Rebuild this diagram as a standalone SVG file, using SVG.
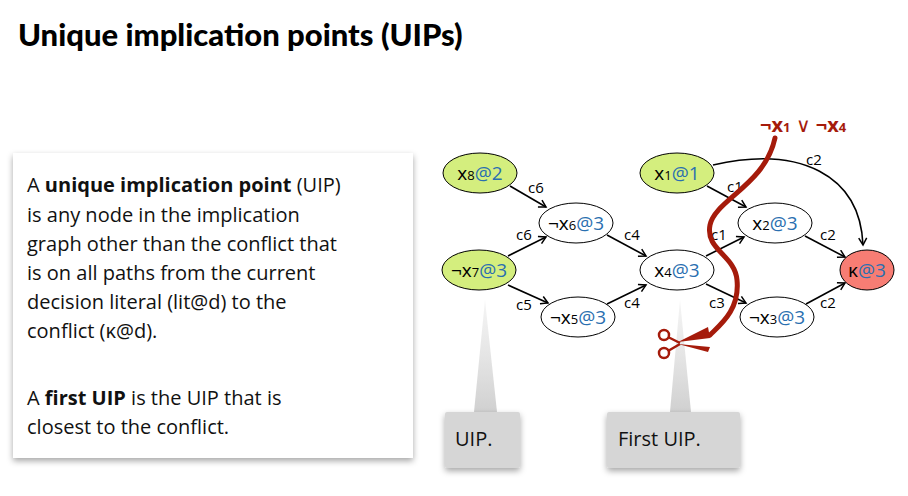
<svg xmlns="http://www.w3.org/2000/svg" width="908" height="496" viewBox="0 0 908 496">
<defs>
<marker id="ar" markerWidth="10" markerHeight="10" refX="8" refY="5" orient="auto" markerUnits="userSpaceOnUse"><path d="M1,1 L8,5 L1,9" fill="none" stroke="#000" stroke-width="1.5"/></marker>
<filter id="sh" x="-10%" y="-10%" width="130%" height="130%"><feDropShadow dx="0" dy="3" stdDeviation="3" flood-color="#000" flood-opacity="0.35"/></filter>
<linearGradient id="spk" x1="0" y1="0" x2="0" y2="1"><stop offset="0" stop-color="#ddd" stop-opacity="0.3"/><stop offset="1" stop-color="#d0d0d0"/></linearGradient>
</defs>
<style>
.t{font-family:"Open Sans","Liberation Sans",sans-serif;fill:#111}
.n{font-family:"Open Sans","Liberation Sans",sans-serif;font-size:19px;text-anchor:middle}
.at{fill:#2a6fb0}
.lb{font-family:"Open Sans","Liberation Sans",sans-serif;font-size:15px;fill:#000}
.e{fill:none;stroke:#000;stroke-width:1.6;marker-end:url(#ar)}
ellipse{stroke:#000;stroke-width:1}
</style>
<rect width="908" height="496" fill="#fff"/>
<text x="18" y="46" font-family="Lato,'Open Sans',sans-serif" font-size="31" font-weight="900" fill="#000">Unique implication points (UIPs)</text>
<g id="textbox">
<rect x="13" y="153" width="400" height="305" fill="#fff" filter="url(#sh)"/>
<text class="t" font-size="20">
<tspan x="27" y="192">A <tspan font-weight="bold">unique implication point</tspan> (UIP)</tspan>
<tspan x="27" y="222">is any node in the implication</tspan>
<tspan x="27" y="251">graph other than the conflict that</tspan>
<tspan x="27" y="280">is on all paths from the current</tspan>
<tspan x="27" y="309">decision literal (lit@d) to the</tspan>
<tspan x="27" y="338">conflict (κ@d).</tspan>
<tspan x="27" y="405">A <tspan font-weight="bold">first UIP</tspan> is the UIP that is</tspan>
<tspan x="27" y="434">closest to the conflict.</tspan>
</text>
</g>
<g id="callout-uip">
<path d="M485,300 L474,412 L497,412 Z" fill="url(#spk)"/>
<rect x="445" y="412" width="75" height="56" rx="2" fill="#d6d6d6" filter="url(#sh)"/>
<text x="455" y="446" class="t" font-size="20">UIP.</text>
</g>
<g id="callout-first">
<path d="M680,300 L670,412 L691,412 Z" fill="url(#spk)"/>
<rect x="607" y="412" width="133" height="56" rx="2" fill="#d6d6d6" filter="url(#sh)"/>
<text x="618" y="446" class="t" font-size="20">First UIP.</text>
</g>
<g id="connectors">
<path class="e" d="M510,186 L546,207"/>
<path class="e" d="M508,256 L546,237"/>
<path class="e" d="M508,285 L548,303"/>
<path class="e" d="M607,235 L646,256"/>
<path class="e" d="M607,304 L646,285"/>
<path class="e" d="M707,186 L746,207"/>
<path class="e" d="M706,256 L744,237"/>
<path class="e" d="M706,284 L746,303"/>
<path class="e" d="M805,236 L845,257"/>
<path class="e" d="M806,304 L845,283"/>
<path class="e" d="M713,165 C800,145 860,175 863,245"/>
<g class="lb">
<text x="528" y="193">c6</text><text x="516" y="240">c6</text><text x="624" y="240">c4</text>
<text x="516" y="310">c5</text><text x="624" y="308">c4</text>
<text x="727" y="192">c1</text><text x="711" y="240">c1</text><text x="709" y="308">c3</text>
<text x="806" y="165">c2</text><text x="820" y="240">c2</text><text x="820" y="308">c2</text>
</g>
</g>
<g id="x8"><ellipse cx="480" cy="173" rx="37" ry="20" fill="#d4ee7e"/><text x="480" y="180" class="n">x<tspan font-size="13">8</tspan><tspan class="at">@2</tspan></text></g>
<g id="x1"><ellipse cx="677" cy="173" rx="37" ry="20" fill="#d4ee7e"/><text x="677" y="180" class="n">x<tspan font-size="13">1</tspan><tspan class="at">@1</tspan></text></g>
<g id="x7"><ellipse cx="479" cy="270" rx="37" ry="20" fill="#d4ee7e"/><text x="479" y="277" class="n">¬x<tspan font-size="13">7</tspan><tspan class="at">@3</tspan></text></g>
<g id="x6"><ellipse cx="576" cy="223" rx="37" ry="20" fill="#fff"/><text x="576" y="230" class="n">¬x<tspan font-size="13">6</tspan><tspan class="at">@3</tspan></text></g>
<g id="x5"><ellipse cx="578" cy="317" rx="37" ry="20" fill="#fff"/><text x="578" y="324" class="n">¬x<tspan font-size="13">5</tspan><tspan class="at">@3</tspan></text></g>
<g id="x4"><ellipse cx="677" cy="270" rx="37" ry="20" fill="#fff"/><text x="677" y="277" class="n">x<tspan font-size="13">4</tspan><tspan class="at">@3</tspan></text></g>
<g id="x2"><ellipse cx="775" cy="223" rx="37" ry="20" fill="#fff"/><text x="775" y="230" class="n">x<tspan font-size="13">2</tspan><tspan class="at">@3</tspan></text></g>
<g id="x3"><ellipse cx="777" cy="317" rx="37" ry="20" fill="#fff"/><text x="777" y="324" class="n">¬x<tspan font-size="13">3</tspan><tspan class="at">@3</tspan></text></g>
<g id="kappa"><ellipse cx="867" cy="270" rx="27" ry="20" fill="#f77d74"/><text x="867" y="277" class="n">κ<tspan class="at">@3</tspan></text></g>
<g id="cut">
<path d="M775,138 C765,185 715,200 710,225 C705,250 735,255 737,280 C740,310 720,325 710,335" fill="none" stroke="#a51b0b" stroke-width="5" stroke-linecap="round"/>
<path d="M708,327 L678,342 L710,338 Z M710,347 L678,344 L708,352 Z" fill="#a51b0b"/>
<circle cx="664" cy="335" r="5" fill="none" stroke="#a51b0b" stroke-width="2.5"/>
<circle cx="664" cy="353" r="5" fill="none" stroke="#a51b0b" stroke-width="2.5"/>
<path d="M668,337 L680,343 M668,351 L680,344" stroke="#a51b0b" stroke-width="2.5"/>
<text x="760" y="132" font-family="Open Sans,Liberation Sans,sans-serif" font-size="20" font-weight="bold" fill="#a51b0b">¬x<tspan font-size="13">1</tspan> <tspan font-weight="normal">∨</tspan> ¬x<tspan font-size="13">4</tspan></text>
</g>
</svg>
